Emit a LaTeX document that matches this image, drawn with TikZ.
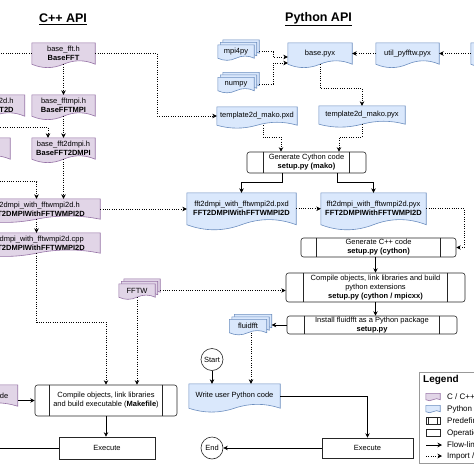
\documentclass[tikz,border=0pt]{standalone}
\usepackage{fontspec}
\setmainfont{Liberation Sans}
\usetikzlibrary{arrows.meta, calc, backgrounds}
\definecolor{cppfill}{HTML}{E1D5E7}
\definecolor{cppline}{HTML}{9673A6}
\definecolor{pyfill}{HTML}{DAE8FC}
\definecolor{pyline}{HTML}{6C8EBF}

% document shape with a wavy bottom, drawn round a node (#3 shifts it)
\newcommand{\docshape}[3]{%
  \path[#1] let \p1=($(#2.north west)+(#3)$), \p2=($(#2.south east)+(#3)$),
      \n1={\y1-\y2}, \n2={\x2-\x1} in
    (\x1,\y1) -- (\x2,\y1) -- (\x2,\y2)
    .. controls (\x2-0.1667*\n2,\y2+0.212*\n1) and (\x2-0.3333*\n2,\y2+0.212*\n1) .. (\x2-0.5*\n2,\y2)
    .. controls (\x1+0.3333*\n2,\y2-0.212*\n1) and (\x1+0.1667*\n2,\y2-0.212*\n1) .. (\x1,\y2) -- cycle;}

\begin{document}
\begin{tikzpicture}[x=1pt, y=-1pt,
    lbl/.style={font=\fontsize{7.5}{9}\selectfont, align=center, inner sep=1pt},
    cppdoc/.style n args={2}{lbl, minimum width=#1, minimum height=#2},
    pydoc/.style n args={2}{lbl, minimum width=#1, minimum height=#2},
    cppshape/.style={fill=cppfill, draw=cppline, line width=0.6pt},
    pyshape/.style={fill=pyfill, draw=pyline, line width=0.6pt},
    proc/.style n args={2}{lbl, draw=black!85, fill=white, line width=0.6pt, rounded corners=2.5pt, minimum width=#1, minimum height=#2},
    oper/.style n args={2}{lbl, draw=black!85, fill=white, line width=0.6pt, minimum width=#1, minimum height=#2},
    term/.style={lbl, circle, draw=black!85, fill=white, line width=0.6pt, minimum size=22pt, inner sep=0pt},
    title/.style={font=\bfseries\fontsize{12.5}{14}\selectfont},
    keytext/.style={font=\fontsize{8}{9}\selectfont, anchor=west, inner sep=0pt},
    keybox/.style={draw=black!85, line width=0.6pt, minimum width=14pt, minimum height=7pt, inner sep=0pt},
    imp/.style={draw, line width=0.6pt, dash pattern=on 1pt off 1.3pt, -{Stealth[length=4.5pt,width=4.5pt]}},
    flow/.style={draw, line width=0.6pt, -{Stealth[length=4.5pt,width=4.5pt]}}]
  \useasboundingbox (0,0) rectangle (474,474);
  \clip (0,0) rectangle (474,474);

  \node at (63,19) (cpptitle) [title] {\underline{C++ API}};
  \node at (318.5,19) (pytitle) [title] {\underline{Python API}};

  % C++ files
  \node at (63.5,53.5) (basefft) [cppdoc={63pt}{21pt}] {base\_fft.h\\\textbf{BaseFFT}};
  \node at (-7,105.5) (basefftd) [cppdoc={63pt}{21pt}] {base\_fft2d.h\\\textbf{BaseFFT2D}};
  \node at (63.5,105.5) (basefftmpi) [cppdoc={63pt}{21pt}] {base\_fftmpi.h\\\textbf{BaseFFTMPI}};
  \node at (-21.5,148.5) (fftdleft) [cppdoc={63pt}{21pt}] {};
  \node at (63.5,148.5) (basefftdmpi) [cppdoc={63pt}{21pt}] {base\_fft2dmpi.h\\\textbf{BaseFFT2DMPI}};
  \node at (36.5,209) (fftwh) [cppdoc={127pt}{20pt}] {fft2dmpi\_with\_fftwmpi2d.h\\\textbf{FFT2DMPIWithFFTWMPI2D}};
  \node at (36.5,243) (fftwcpp) [cppdoc={127pt}{20pt}] {fft2dmpi\_with\_fftwmpi2d.cpp\\\textbf{FFT2DMPIWithFFTWMPI2D}};
  \node at (137,290.5) (fftw) [cppdoc={36pt}{13pt}] {FFTW};
  \node at (-26,395.5) (usercpp) [cppdoc={87pt}{21pt}] {Write user C++ code};

  % Python files
  \node at (236,51.5) (mpi4py) [pydoc={36pt}{13pt}] {mpi4py};
  \node at (236,84) (numpy) [pydoc={36pt}{13pt}] {numpy};
  \node at (320,53.5) (basepyx) [pydoc={64pt}{21pt}] {base.pyx};
  \node at (407.5,53.5) (utilpyfftw) [pydoc={63pt}{21pt}] {util\_pyfftw.pyx};
  \node at (502.5,53.5) (pyright) [pydoc={63pt}{21pt}] {};
  \node at (257,116) (makopxd) [pydoc={80pt}{18pt}] {template2d\_mako.pxd};
  \node at (362,115) (makopyx) [pydoc={86pt}{18pt}] {template2d\_mako.pyx};
  \node at (241.5,208.75) (fftwpxd) [pydoc={109pt}{31.5pt}] {fft2dmpi\_with\_fftwmpi2d.pxd\\\textbf{FFT2DMPIWithFFTWMPI2D}};
  \node at (373.5,208.75) (fftwpyx) [pydoc={105pt}{31.5pt}] {fft2dmpi\_with\_fftwmpi2d.pyx\\\textbf{FFT2DMPIWithFFTWMPI2D}};
  \node at (248,326) (fluidfft) [pydoc={37pt}{13pt}] {fluidfft};
  \node at (234.5,396) (writepy) [pydoc={91pt}{24pt}] {Write user Python code};

  % steps
  \node at (306.5,162.5) (gencython) [proc={119pt}{21pt}] {Generate Cython code\\\textbf{setup.py (mako)}};
  \node at (378.5,247.5) (gencpp) [proc={155pt}{19pt}] {Generate C++ code\\\textbf{setup.py (cython)}};
  \node at (375.5,287.5) (compilepy) [proc={179pt}{29pt}] {Compile objects, link libraries and build\\python extensions\\\textbf{setup.py (cython / mpicxx)}};
  \node at (372,325) (install) [proc={170pt}{18pt}] {Install fluidfft as a Python package\\\textbf{setup.py}};
  \node at (106,400.5) (compilecpp) [proc={142pt}{31pt}] {Compile objects, link libraries\\and build executable (\textbf{Makefile})};
  \node at (107,448) (execcpp) [oper={96pt}{22pt}] {Execute};
  \node at (367.5,448) (execpy) [oper={91pt}{20pt}] {Execute};
  \node at (212,359.5) (start) [term] {Start};
  \node at (212,448) (finish) [term] {End};
  \coordinate (endcpp) at (-40,448);

  % legend
  \node at (419,372) (legend) [anchor=north west, draw=black!40, line width=0.6pt, minimum width=110pt, minimum height=91pt] {};
  \node at (423,379.5) (legendtitle) [anchor=west, inner sep=0pt, font=\bfseries\fontsize{10}{11}\selectfont] {Legend};
  \node at (433,396.5) (kcpp) [cppdoc={14pt}{6pt}] {};
  \node at (433,408.5) (kpy) [pydoc={14pt}{6pt}] {};
  \node at (433,421) (kproc) [keybox] {};
  \node at (433,433) (kop) [keybox] {};
  \coordinate (kflowa) at (426,445);
  \coordinate (kflowb) at (442,445);
  \coordinate (kimpa) at (426,456);
  \coordinate (kimpb) at (442,456);
  \node at (447,397) [keytext] {C / C++ code};
  \node at (447,409) [keytext] {Python code};
  \node at (447,421) [keytext] {Predefined process};
  \node at (447,433) [keytext] {Operation};
  \node at (447,445) [keytext] {Flow-line};
  \node at (447,456) [keytext] {Import / usage};
  \draw[flow] (kflowa) -- (kflowb);
  \draw[imp] (kimpa) -- (kimpb);

  \foreach \nd/\d in {gencython/17pt, gencpp/16pt, compilepy/18pt, install/18pt, compilecpp/15pt, kproc/3pt}
    \draw[draw=black!85, line width=0.6pt] ([xshift=\d]\nd.north west) -- ([xshift=\d]\nd.south west)
      ([xshift=-\d]\nd.north east) -- ([xshift=-\d]\nd.south east);

  \begin{scope}[on background layer]
    \clip (0,0) rectangle (474,474);
    \docshape{cppshape}{fftw}{5pt,5pt}
    \docshape{cppshape}{fftw}{2.5pt,2.5pt}
    \foreach \nd in {mpi4py, numpy, fluidfft} {
      \docshape{pyshape}{\nd}{5pt,5pt}
      \docshape{pyshape}{\nd}{2.5pt,2.5pt}
    }
    \foreach \nd in {basefft, basefftd, basefftmpi, fftdleft, basefftdmpi, fftwh, fftwcpp, fftw, usercpp, kcpp} {
      \docshape{cppshape}{\nd}{0pt,0pt}
    }
    \foreach \nd in {mpi4py, numpy, basepyx, utilpyfftw, pyright, makopxd, makopyx, fftwpxd, fftwpyx, fluidfft, writepy, kpy} {
      \docshape{pyshape}{\nd}{0pt,0pt}
    }
  \end{scope}

  % imports
  \draw[imp] (basefft.west) -| (basefftd.north);
  \draw[imp] (basefft) -- (basefftmpi);
  \draw[imp] (basefftmpi) -- (basefftdmpi);
  \draw[imp] (basefftd.south) -- ++(0,11) -| ([xshift=-15.5pt]basefftdmpi.north);
  \draw[imp] (basefftdmpi.south) -- (basefftdmpi.south |- fftwh.north);
  \draw[imp] (fftdleft.south) -- ++(0,22.5) -| (fftwh.north);
  \draw[imp] (fftwh) -- (fftwcpp);
  \draw[imp] (fftwcpp.south) -- ++(0,69) -| (compilecpp.north);
  \draw[imp] (fftw.south) -- (fftw.south |- compilecpp.north);
  \draw[imp] ([xshift=5pt]fftw.east) -- (fftw.east -| compilepy.west);
  \draw[imp] (basefft.east) -- ++(62,0) |- (makopxd.west);
  \draw[imp] (fftwh.east) -- (fftwh.east -| fftwpxd.west);
  \draw[imp] ([xshift=5pt]mpi4py.east) -- ++(14,0) |- ([yshift=-3.5pt]basepyx.west);
  \draw[imp] ([xshift=5pt]numpy.east) -- ++(14,0) |- ([yshift=-9.5pt]basepyx.west);
  \draw[imp] (pyright) -- (utilpyfftw);
  \draw[imp] (utilpyfftw) -- (basepyx);
  \draw[imp] (basepyx.south) -- ++(0,24) -| (makopyx.north);
  \draw[imp] ([xshift=6pt]makopxd.south) -- ++(0,12) -| ([xshift=-25.5pt]gencython.north);
  \draw[imp] (makopyx.south) -- ++(0,13) -| ([xshift=32.5pt]gencython.north);
  \draw[imp] (fftwpxd) -- (fftwpyx);
  \draw[imp] (fftwpyx.east) -- ++(38,0) |- (gencpp.east);
  \draw[imp] ([xshift=3pt]fluidfft.south) -- ([xshift=3pt]fluidfft.south |- writepy.north);

  % flow
  \draw[flow] ([xshift=-24.5pt]gencython.south) -- ++(0,9) -| (fftwpxd.north);
  \draw[flow] ([xshift=30.5pt]gencython.south) -- ++(0,9) -| (fftwpyx.north);
  \draw[flow] (compilepy.north |- gencpp.south) -- (compilepy.north);
  \draw[flow] (compilepy.south) -- (compilepy.south |- install.north);
  \draw[flow] (install.west) -- ($(install.west -| fluidfft.east)+(5pt,0)$);
  \draw[flow] (start) -- (start |- writepy.north);
  \draw[flow] (writepy.east) -| (execpy.north);
  \draw[flow] (execpy) -- (finish);
  \draw[flow] (compilecpp.west -| usercpp.east) -- (compilecpp.west);
  \draw[flow] (compilecpp.south) -- (compilecpp.south |- execcpp.north);
  \draw[flow] (execcpp) -- (endcpp);
\end{tikzpicture}
\end{document}
